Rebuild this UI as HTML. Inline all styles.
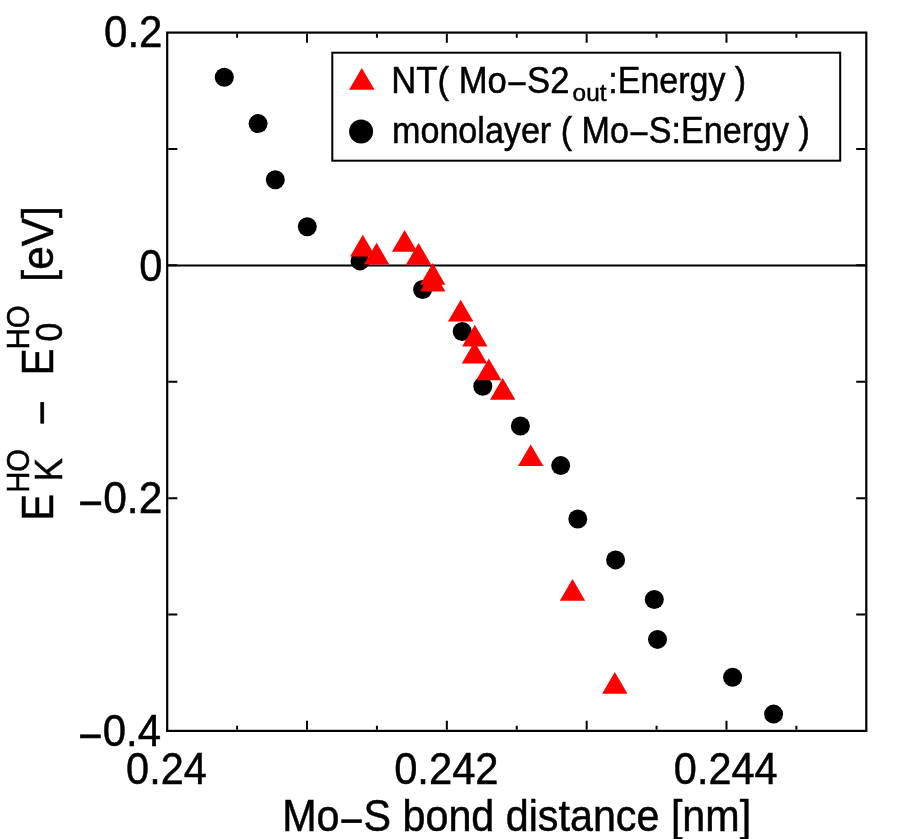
<!DOCTYPE html><html><head><meta charset="utf-8"><style>html,body{margin:0;padding:0;background:#fff;overflow:hidden}svg{display:block;will-change:transform}text{font-family:"Liberation Sans",sans-serif;fill:#000;stroke:#000;stroke-width:0.5px}</style></head><body>
<svg width="900" height="839" viewBox="0 0 900 839">
<line x1="167.2" y1="265.5" x2="866.3" y2="265.5" stroke="#000" stroke-width="2.2"/>
<path d="M237.11 729.80v-4M237.11 33.70v4M307.02 729.80v-9M307.02 33.70v9M376.93 729.80v-4M376.93 33.70v4M446.84 729.80v-9M446.84 33.70v9M516.75 729.80v-4M516.75 33.70v4M586.66 729.80v-9M586.66 33.70v9M656.57 729.80v-4M656.57 33.70v4M726.48 729.80v-9M726.48 33.70v9M796.39 729.80v-4M796.39 33.70v4M168.30 148.98h9M865.20 148.98h-9M168.30 265.37h9M865.20 265.37h-9M168.30 381.75h9M865.20 381.75h-9M168.30 498.13h9M865.20 498.13h-9M168.30 614.52h9M865.20 614.52h-9" stroke="#000" stroke-width="2" fill="none"/>
<rect x="167.2" y="32.6" width="699.10" height="698.30" fill="none" stroke="#000" stroke-width="2.2"/>
<circle cx="224.3" cy="77.3" r="9.5"/>
<circle cx="258.1" cy="123.6" r="9.5"/>
<circle cx="275.3" cy="179.7" r="9.5"/>
<circle cx="307.3" cy="226.7" r="9.5"/>
<circle cx="360.0" cy="260.9" r="9.5"/>
<circle cx="422.6" cy="289.5" r="9.5"/>
<circle cx="462.2" cy="331.5" r="9.5"/>
<circle cx="482.8" cy="386.2" r="9.5"/>
<circle cx="520.4" cy="426.0" r="9.5"/>
<circle cx="560.7" cy="465.6" r="9.5"/>
<circle cx="577.8" cy="519.0" r="9.5"/>
<circle cx="615.6" cy="559.9" r="9.5"/>
<circle cx="654.3" cy="599.5" r="9.5"/>
<circle cx="657.5" cy="639.4" r="9.5"/>
<circle cx="732.6" cy="677.2" r="9.5"/>
<circle cx="773.6" cy="714.1" r="9.5"/>
<path d="M362.8 234.8L375.50 256.50L350.10 256.50Z" fill="#f00"/>
<path d="M376.6 242.8L389.30 264.50L363.90 264.50Z" fill="#f00"/>
<path d="M404.6 230.0L417.30 251.70L391.90 251.70Z" fill="#f00"/>
<path d="M418.6 243.0L431.30 264.70L405.90 264.70Z" fill="#f00"/>
<path d="M432.7 263.0L445.40 284.70L420.00 284.70Z" fill="#f00"/>
<path d="M432.7 269.8L445.40 291.50L420.00 291.50Z" fill="#f00"/>
<path d="M460.7 299.8L473.40 321.50L448.00 321.50Z" fill="#f00"/>
<path d="M474.8 324.8L487.50 346.50L462.10 346.50Z" fill="#f00"/>
<path d="M474.5 341.8L487.20 363.50L461.80 363.50Z" fill="#f00"/>
<path d="M488.8 358.5L501.50 380.20L476.10 380.20Z" fill="#f00"/>
<path d="M502.7 378.1L515.40 399.80L490.00 399.80Z" fill="#f00"/>
<path d="M530.7 444.4L543.40 466.10L518.00 466.10Z" fill="#f00"/>
<path d="M572.5 579.1L585.20 600.80L559.80 600.80Z" fill="#f00"/>
<path d="M614.8 672.1L627.50 693.80L602.10 693.80Z" fill="#f00"/>
<rect x="332.3" y="52.7" width="507.9" height="108" fill="#fff" stroke="#000" stroke-width="2"/>
<path d="M361.8 67.9L374.6 89.7L349.1 89.7Z" fill="#f00"/>
<circle cx="361.1" cy="131.5" r="12"/>
<text transform="translate(104.04,47.3) scale(0.9552,1)" font-size="44">0.2</text>
<text transform="translate(139.15,280.7) scale(0.9455,1)" font-size="44">0</text>
<text transform="translate(78.27,513.0) scale(0.9675,1)" font-size="44"><tspan dy="5">−</tspan><tspan dy="-5">0.2</tspan></text>
<text transform="translate(78.30,745.7) scale(0.9524,1)" font-size="44"><tspan dy="5">−</tspan><tspan dy="-5">0.4</tspan></text>
<text transform="translate(126.06,784.3) scale(0.9429,1)" font-size="44">0.24</text>
<text transform="translate(394.15,784.3) scale(0.9486,1)" font-size="44">0.242</text>
<text transform="translate(673.86,784.3) scale(0.9426,1)" font-size="44">0.244</text>
<text transform="translate(282.15,831.2) scale(0.9172,1)" font-size="45">Mo<tspan dy="4.4">−</tspan><tspan dy="-4.4">S bond distance [nm]</tspan></text>
<text transform="translate(391.35,92.6) scale(0.9497,1)" font-size="36.5">NT( Mo<tspan dy="3.5">−</tspan><tspan dy="-3.5">S2</tspan></text>
<text transform="translate(572.61,100.8) scale(0.9909,1)" font-size="24.6">out</text>
<text transform="translate(608.31,92.6) scale(0.9308,1)" font-size="36.5">:Energy )</text>
<text transform="translate(392.03,142.5) scale(0.9345,1)" font-size="36.5">monolayer ( Mo<tspan dy="3.5">−</tspan><tspan dy="-3.5">S:Energy )</tspan></text>
<g transform="translate(52.8,517.8) rotate(-90)">
<text transform="translate(-2.64,0.0) scale(0.8800,1)" font-size="45">E</text>
<text transform="translate(36.25,9.4) scale(0.9182,1)" font-size="38.2">K</text>
<text transform="translate(25.05,-23.9) scale(0.9273,1)" font-size="31.5">HO</text>
<text transform="translate(92.26,4.2) scale(0.9682,1)" font-size="45">−</text>
<text transform="translate(142.62,0.0) scale(0.8920,1)" font-size="45">E</text>
<text transform="translate(176.29,9.6) scale(0.9111,1)" font-size="37.1">0</text>
<text transform="translate(168.32,-23.9) scale(0.9386,1)" font-size="31.5">HO</text>
<text transform="translate(236.17,0.0) scale(0.9419,1)" font-size="45">[eV]</text>
</g>
</svg></body></html>
